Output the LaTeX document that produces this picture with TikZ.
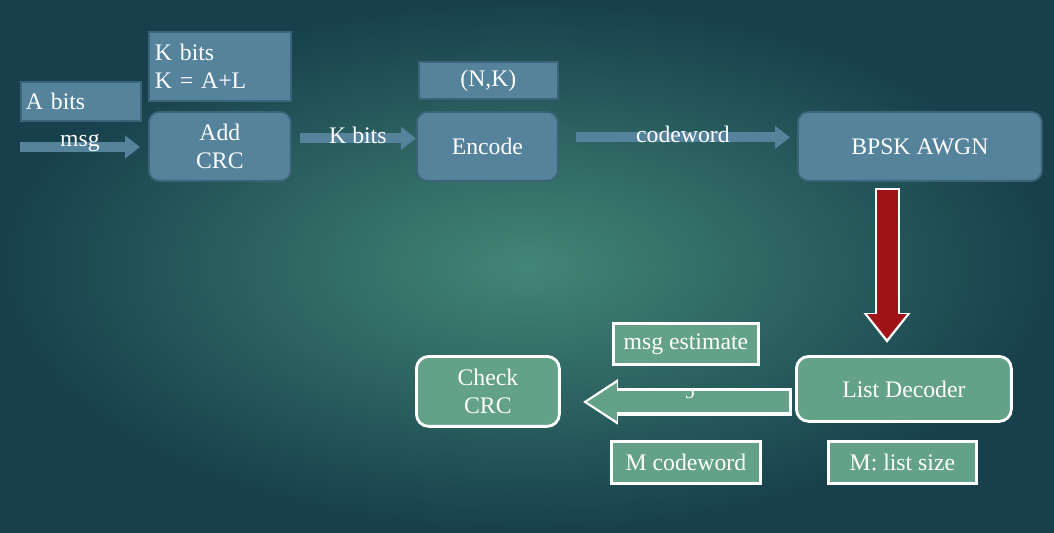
\documentclass[tikz,border=0pt]{standalone}
\usepackage{fontspec}
\setmainfont{Liberation Serif}
\usetikzlibrary{arrows.meta,positioning,calc}
\definecolor{boxblue}{HTML}{55839B}
\definecolor{boxedge}{HTML}{3B6478}
\definecolor{boxgreen}{HTML}{63A189}
\definecolor{decred}{HTML}{A01418}
\definecolor{bgin}{HTML}{428676}
\definecolor{bgout}{HTML}{17404C}
\begin{document}
\begin{tikzpicture}[
        x=0.02cm, y=-0.02cm,
        every node/.style={text=white, font=\fontsize{13.5}{16}\selectfont, align=center},
        blue/.style={fill=boxblue, draw=boxedge, line width=1pt, inner sep=0pt},
        rblue/.style={blue, rounded corners=6pt},
        green/.style={fill=boxgreen, draw=white, line width=1.6pt, inner sep=0pt},
        rgreen/.style={green, rounded corners=7pt},
        flow/.style={draw=boxblue, line width=0.2cm,
            -{Triangle[width=0.44cm,length=0.3cm]}},
    ]
    % background
    \shade[inner color=bgin, outer color=bgout] (0,0) rectangle (1054,532);
    \useasboundingbox (0,0) rectangle (1054,532);
    % encoder chain
    \node[blue, minimum width=2.4cm, minimum height=0.78cm, anchor=north west,
          text width=2.2cm, align=left] (abits) at (20,81) {A bits};
    \node[blue, minimum width=2.84cm, minimum height=1.38cm, anchor=north west,
          text width=2.6cm, align=left] (kbits) at (148,31) {K bits\\K = A+L};
    \node[rblue, minimum width=2.84cm, minimum height=1.38cm, anchor=north west]
        (crc) at (148,111) {Add\\CRC};
    \node[blue, minimum width=2.78cm, minimum height=0.74cm, anchor=north west]
        (nk) at (418,61) {(N,K)};
    \node[rblue, minimum width=2.82cm, minimum height=1.38cm, anchor=north west]
        (enc) at (416,111) {Encode};
    \node[rblue, minimum width=4.88cm, minimum height=1.38cm, anchor=north west]
        (bpsk) at (797,111) {BPSK AWGN};
    \coordinate (src) at (20,147);
    \draw[flow] (src) -- node[above=-9pt] {msg} ($(crc.west |- src)+(-8,0)$);
    \draw[flow] ($(crc.east)+(8,-8)$) coordinate (k1) -- node[above=-9pt] {K bits} ($(enc.west |- k1)$);
    \draw[flow] ($(enc.east)+(17,-9)$) coordinate (c1) -- node[above=-9pt] {codeword} ($(bpsk.west |- c1)+(-7,0)$);
    % decoder side
    \node[rgreen, minimum width=4.3cm, minimum height=1.3cm, anchor=north west]
        (dec) at (795,355) {List Decoder};
    \node[rgreen, minimum width=2.86cm, minimum height=1.4cm, anchor=north west]
        (chk) at (415,355) {Check\\CRC};
    \node[green, minimum width=2.9cm, minimum height=0.82cm, anchor=north west]
        (est) at (612,322) {msg estimate};
    \node[green, minimum width=2.98cm, minimum height=0.84cm, anchor=north west]
        (mcw) at (610,440) {M codeword};
    \node[green, minimum width=2.96cm, minimum height=0.84cm, anchor=north west]
        (msize) at (827,440) {M: list size};
    \draw[draw=white, line width=0.5cm,
          -{Triangle[width=0.9cm,length=0.6cm]}] (bpsk.south -| 887,0) ++(0,6) coordinate (rs)
          -- ($(dec.north -| 887,0)+(0,-12)$) coordinate (re);
    \draw[draw=decred, line width=0.42cm,
          -{Triangle[width=0.76cm,length=0.5cm]}] ($(rs)+(0,2)$) -- ($(re)+(0,-4)$);
    \draw[draw=white, line width=0.56cm,
          -{Triangle[width=0.86cm,length=0.7cm]}] ($(dec.west)+(-3,13)$) coordinate (ls)
          -- ($(chk.east |- ls)+(22,0)$) coordinate (le);
    \draw[draw=boxgreen, line width=0.42cm,
          -{Triangle[width=0.72cm,length=0.6cm]}] ($(ls)+(-3,0)$) -- ($(le)+(4,0)$);
    \node[font=\fontsize{12}{12}\selectfont] (oo) at (690,394) {ɔ};
\end{tikzpicture}
\end{document}
